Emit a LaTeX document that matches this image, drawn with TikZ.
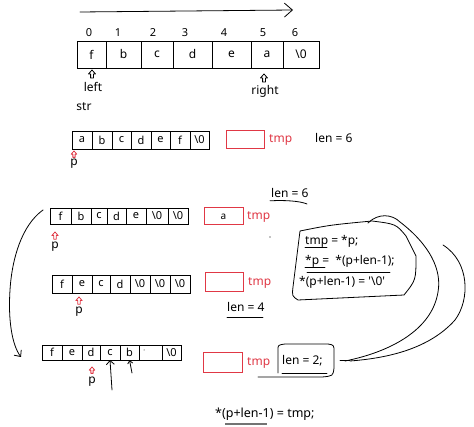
\documentclass[tikz,border=0pt]{standalone}
\usepackage{fontspec}
\setmainfont{Noto Sans}
\usetikzlibrary{arrows.meta,positioning}
\definecolor{penRed}{rgb}{0.88,0.22,0.27}
\newcommand{\zterm}{\textbackslash 0}

\tikzset{
 cell/.style={draw, anchor=north west, inner sep=0pt, outer sep=0pt, line width=0.9pt, font=\fontsize{11}{12}\selectfont},
 tmpbox/.style={draw=penRed, line width=1pt, anchor=north west, inner sep=0pt, outer sep=0pt, minimum width=38pt, minimum height=18pt, font=\fontsize{10}{12}\selectfont},
 tmplabel/.style={text=penRed, font=\fontsize{12}{14}\selectfont, inner sep=0pt, anchor=west},
 pen/.style={line width=0.8pt, line cap=round, line join=round},
 txt/.style={font=\fontsize{12}{14}\selectfont, inner sep=0pt},
 hollowup/.pic={\draw[line width=0.8pt, line join=round] (0,0) -- (-3.5,4) -- (-1.4,4) -- (-1.4,8) -- (1.4,8) -- (1.4,4) -- (3.5,4) -- cycle;},
}

\begin{document}
\begin{tikzpicture}[x=1pt, y=-1pt]
 \useasboundingbox[fill=white] (0,0) rectangle (474,427);

 \coordinate (arrA) at (80,12);
 \coordinate (arrB) at (293,10);
 \draw[pen, -{Straight Barb[length=8pt, width=14pt]}] (arrA) -- (arrB);

 \foreach \lx/\rx/\ch [count=\i from 0] in {77/106/f,106/141/b,141/173/c,173/212/d,212/251/e,251/283/a,283/319/\zterm}{
  \node[cell, font=\fontsize{12}{13}\selectfont, minimum width={(\rx-\lx)*1pt}, minimum height=27pt] (top\i) at (\lx,41) {\ch};
  \node[txt, font=\fontsize{11}{12}\selectfont] (idx\i) at (\lx+12,33) {\i};
 }
 \pic at (92,70) {hollowup};
 \node[txt] (left) at (93,87) {left};
 \pic at (264,74) {hollowup};
 \node[txt] (right) at (265,91) {right};

 \node[txt] (str) at (84,107) {str};

 \foreach \lx/\rx/\ch [count=\i] in {72/92/a,92/112/b,112/131/c,131/151/d,151/170/e,170/190/f,190/209/\zterm}
  \node[cell, minimum width={(\rx-\lx)*1pt}, minimum height=18pt] (rowA\i) at (\lx,131) {\ch};
 \node[tmpbox] (tmpA) at (226,131) {};
 \node[tmplabel, right=5pt of tmpA] {tmp};
 \node[txt, anchor=west] (lenA) at (315,138) {len = 6};
 \pic[penRed, scale=0.8] at (74,151) {hollowup};
 \node[txt] at (74,164) {p};

 \node[txt, anchor=west] (lenB) at (271,193) {len = 6};
 \draw[pen] (lenB.south west) ++(-1,3) .. controls (285,200) and (300,201) .. (307,204);
 \foreach \lx/\rx/\ch [count=\i] in {50/71/f,71/91/b,91/107/c,107/126/d,126/146/e,146/168/\zterm,168/188/\zterm}
  \node[cell, minimum width={(\rx-\lx)*1pt}, minimum height=16pt] (rowB\i) at (\lx,208) {\ch};
 \node[tmpbox, minimum width=39pt, minimum height=17pt] (tmpB) at (204,208) {a};
 \node[tmplabel, right=4pt of tmpB] {tmp};
 \pic[penRed, scale=0.9] at (55,232) {hollowup};
 \node[txt] at (55,247) {p};
 \fill (270,237) circle (0.6);

 \foreach \lx/\rx/\ch [count=\i] in {52/72/f,72/92/e,92/110/c,110/130/d,130/150/\zterm,150/170/\zterm,170/190/\zterm}
  \node[cell, minimum width={(\rx-\lx)*1pt}, minimum height=18pt] (rowC\i) at (\lx,275) {\ch};
 \node[tmpbox, minimum height=19pt] (tmpC) at (205,273) {};
 \node[tmplabel, right=5pt of tmpC] {tmp};
 \pic[penRed, scale=0.9] at (79,297) {hollowup};
 \node[txt] at (79,312) {p};
 \node[txt, anchor=west] (lenC) at (227,307) {len = 4};
 \draw[pen] (227,317) -- (263,317);

 \foreach \lx/\rx/\ch [count=\i] in {42/62/f,62/82/e,82/100/d,100/120/c,120/139/b,139/162/{},162/181/\zterm}
  \node[cell, minimum width={(\rx-\lx)*1pt}, minimum height=15pt] (rowD\i) at (\lx,345) {\ch};
 \fill (144,350) circle (0.5);
 \node[tmpbox, minimum width=39pt, minimum height=20pt] (tmpD) at (203,353) {};
 \node[tmplabel, right=5pt of tmpD] {tmp};
 \pic[penRed, scale=0.8] at (92,367) {hollowup};
 \node[txt] at (92,382) {p};
 \coordinate (cTail) at (112,390);
 \draw[pen, -{Straight Barb[length=4pt, width=8pt]}] (cTail) -- (rowD4.south);
 \coordinate (bTail) at (132,373);
 \draw[pen, -{Straight Barb[length=3pt, width=5pt]}] (bTail) -- (rowD5.south);

 \node[txt, anchor=west] (lenD) at (282,361) {len = 2;};
 \draw[pen] (282,373) -- (327,373);
 \draw[pen] (278,373) -- (278,350) .. controls (278,345) .. (285,344) -- (328,344) .. controls (334,345) .. (334,352) -- (334,368) .. controls (333,376) .. (322,377) -- (258,377);

 \coordinate (bendA) at (43,210);
 \coordinate (bendB) at (21,357);
 \draw[pen, -{Straight Barb[length=5pt, width=9pt]}] (bendA) .. controls (22,225) and (12,258) .. (10,290) .. controls (8,320) and (12,345) .. (bendB);

 \draw[pen] (300,231) .. controls (330,225) .. (372,221) .. controls (396,224) .. (406,236) -- (416,256) .. controls (416,280) .. (404,295) -- (298,300) .. controls (292,296) .. (293,287) -- cycle;
 \node[txt, anchor=west] (codeA) at (305,241) {tmp = *p;};
 \node[txt, anchor=west] (codeB) at (305,261) {*p = \ *(p+len-1);};
 \node[txt, anchor=west] (codeC) at (299,282) {*(p+len-1) = \textquotesingle\zterm\textquotesingle};
 \draw[pen] (305,247) -- (327,247);
 \draw[pen] (305,267) -- (325,267);
 \draw[pen] (307,272) -- (390,272);

 \coordinate (loopA) at (368,223);
 \coordinate (loopB) at (443,245);
 \draw[pen] (loopA) .. controls (378,213) and (392,214) .. (400,222) .. controls (430,245) and (442,270) .. (438,292) .. controls (432,330) and (390,352) .. (345,361);
 \draw[pen] (loopB) .. controls (470,262) and (470,300) .. (455,320) .. controls (430,348) and (390,358) .. (350,361);
 \draw[pen] (340,360) -- (350,360);

 \node[txt, font=\fontsize{12.5}{14}\selectfont, anchor=west] (final) at (215,414) {*(p+len-1) = tmp;};
 \draw[line width=2pt, black!55] (225,424) -- (267,424);
\end{tikzpicture}
\end{document}
